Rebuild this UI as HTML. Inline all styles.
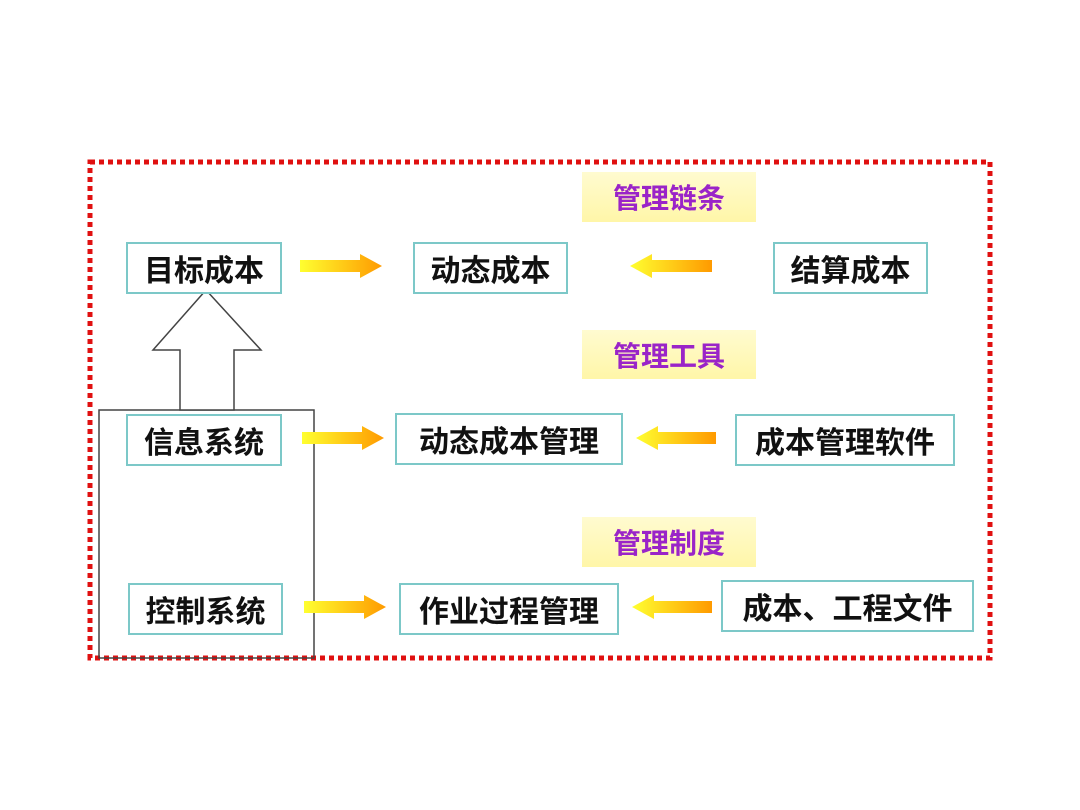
<!DOCTYPE html>
<html><head><meta charset="utf-8"><style>
body{margin:0;width:1080px;height:810px;background:#fff;position:relative;overflow:hidden;font-family:"Liberation Sans","Noto Sans CJK SC",sans-serif}
.b{position:absolute;border:2px solid #7cc8c8;box-sizing:border-box;display:flex;align-items:center;justify-content:center;font-size:30px;font-weight:bold;color:#111;background:#fff}
.l{position:absolute;background:linear-gradient(#fffbd0,#fff6a8);display:flex;align-items:center;justify-content:center;font-size:28px;color:#9a24c8;font-weight:bold}
svg{position:absolute;left:0;top:0}
</style></head><body>
<svg width="1080" height="810">
<defs>
<linearGradient id="gr" x1="0" x2="1"><stop offset="0" stop-color="#ffff30"/><stop offset="1" stop-color="#ff9a00"/></linearGradient>
<linearGradient id="gl" x1="1" x2="0"><stop offset="0" stop-color="#ff9a00"/><stop offset="1" stop-color="#ffff30"/></linearGradient>
</defs>
<rect x="90" y="162" width="900" height="496" fill="none" stroke="#e01010" stroke-width="5" stroke-dasharray="5,4"/>
<rect x="99" y="410" width="215" height="248" fill="none" stroke="#444" stroke-width="1.5"/>
<polygon points="206,290 261,350 234,350 234,410 180,410 180,350 153,350" fill="#fff" stroke="#444" stroke-width="1.5"/>
<g fill="url(#gr)">
<polygon points="300,260 360,260 360,254 382,266 360,278 360,272 300,272"/>
<polygon points="302,432 362,432 362,426 384,438 362,450 362,444 302,444"/>
<polygon points="304,601 364,601 364,595 386,607 364,619 364,613 304,613"/>
</g>
<g fill="url(#gl)">
<polygon points="712,260 652,260 652,254 630,266 652,278 652,272 712,272"/>
<polygon points="716,432 658,432 658,426 636,438 658,450 658,444 716,444"/>
<polygon points="712,601 654,601 654,595 632,607 654,619 654,613 712,613"/>
</g>
</svg>
<div class="l" style="left:582px;top:172px;width:174px;height:50px">管理链条</div>
<div class="l" style="left:582px;top:330px;width:174px;height:49px">管理工具</div>
<div class="l" style="left:582px;top:517px;width:174px;height:50px">管理制度</div>
<div class="b" style="left:126px;top:242px;width:156px;height:52px">目标成本</div>
<div class="b" style="left:413px;top:242px;width:155px;height:52px">动态成本</div>
<div class="b" style="left:773px;top:242px;width:155px;height:52px">结算成本</div>
<div class="b" style="left:126px;top:414px;width:156px;height:52px">信息系统</div>
<div class="b" style="left:395px;top:413px;width:228px;height:52px">动态成本管理</div>
<div class="b" style="left:735px;top:414px;width:220px;height:52px">成本管理软件</div>
<div class="b" style="left:128px;top:583px;width:155px;height:52px">控制系统</div>
<div class="b" style="left:399px;top:583px;width:220px;height:52px">作业过程管理</div>
<div class="b" style="left:721px;top:580px;width:253px;height:52px">成本、工程文件</div>
</body></html>
